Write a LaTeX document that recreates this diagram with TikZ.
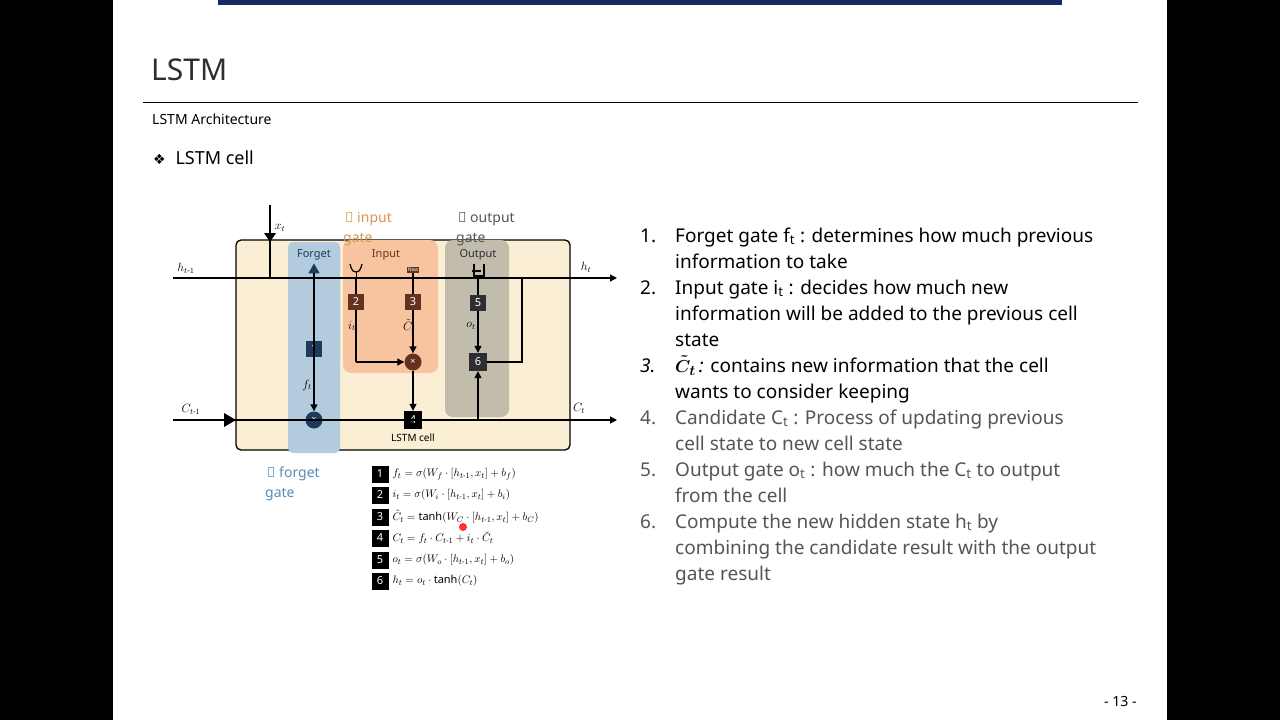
\documentclass[tikz,border=0pt]{standalone}
\usepackage{amsmath}
\usepackage{fontspec}
\setmainfont{Noto Sans}
\setsansfont{Noto Sans}
\usetikzlibrary{arrows.meta,shapes.geometric}
\definecolor{navy}{RGB}{24,42,94}
\definecolor{beige}{RGB}{250,239,212}
\definecolor{fblue}{RGB}{178,204,222}
\definecolor{iorange}{RGB}{248,196,160}
\definecolor{ogray}{RGB}{194,188,172}
\definecolor{dblue}{RGB}{30,58,90}
\definecolor{dbrown}{RGB}{100,50,30}
\definecolor{dgray}{RGB}{45,45,50}
\definecolor{txtgray}{RGB}{85,85,85}
\definecolor{lblorange}{RGB}{215,150,80}
\definecolor{lblblue}{RGB}{90,140,180}
\tikzset{
 gbox/.style={draw=none,fill=#1,minimum size=16pt,inner sep=0pt,text=white,font=\sffamily\fontsize{11}{11}\selectfont},
 mulc/.style={circle,fill=#1,minimum size=17pt,inner sep=0pt,text=white,font=\fontsize{9}{9}\selectfont},
 wire/.style={line width=1.3pt},
 arr/.style={wire,-{Triangle[length=7pt,width=7pt]}},
 mlab/.style={font=\fontsize{12}{12}\selectfont},
 eqn/.style={anchor=west,font=\fontsize{11}{11}\selectfont},
 num/.style={fill=black,text=white,minimum size=17pt,inner sep=0pt,font=\fontsize{11}{11}\selectfont},
 rt/.style={anchor=base west,inner sep=0pt,font=\fontsize{19}{19}\selectfont},
}
\begin{document}
\begin{tikzpicture}[x=1pt,y=-1pt]
\useasboundingbox (0,0) rectangle (1280,720);
\fill[black] (0,0) rectangle (113,720);
\fill[black] (1167,0) rectangle (1280,720);
\fill[white] (113,0) rectangle (1167,720);
\fill[navy] (218,0) rectangle (1062,5);
\node[anchor=base west,inner sep=0pt,font=\bfseries\fontsize{30}{30}\selectfont,text=dgray] (title) at (151,80) {LSTM};
\draw[line width=0.8pt] (143,102) -- (1138,102);
\node[anchor=base west,inner sep=0pt,font=\fontsize{14}{14}\selectfont] (sub) at (152,124) {LSTM Architecture};
\node[anchor=base west,inner sep=0pt,font=\bfseries\fontsize{18}{18}\selectfont] (cellh) at (153,164) {\fontspec{DejaVu Sans}\fontsize{14}{14}\selectfont ❖\ \ \fontspec{Noto Sans}\bfseries\fontsize{18}{18}\selectfont LSTM cell};
% diagram
\draw[fill=beige,line width=1.3pt,rounded corners=5pt] (236,240) rectangle (570,450);
\fill[fblue,rounded corners=5pt] (288,242) rectangle (340,453);
\fill[iorange,rounded corners=8pt] (343,240) rectangle (438,373);
\fill[ogray,rounded corners=8pt] (445,240) rectangle (509,417);
\node[font=\fontsize{11}{11}\selectfont,text=dblue] (fl) at (314,255) {Forget};
\node[font=\fontsize{11}{11}\selectfont,text=dbrown] (il) at (386,255) {Input};
\node[font=\fontsize{11}{11}\selectfont,text=dgray] (ol) at (478,255) {Output};
% coords
\coordinate (hin) at (173,278);
\coordinate (hout) at (617,278);
\coordinate (cin) at (173,420);
\coordinate (cout) at (617,420);
\coordinate (xin) at (270,205);
\coordinate (xj) at (270,278);
\node[regular polygon,regular polygon sides=3,fill=dblue,minimum size=13pt,inner sep=0pt] (tri) at (314,270) {};
\node[gbox=dblue] (b1) at (314,349) {1};
\node[mulc=dblue] (m1) at (314,420) {×};
\node[gbox=dbrown] (b2) at (356,302) {2};
\node[gbox=dbrown] (b3) at (413,302) {3};
\node[fill=dbrown,text=white,inner sep=1pt,font=\fontsize{5}{5}\selectfont] (new) at (413,270) {New};
\node[mulc=dbrown] (m2) at (413,362) {×};
\node[gbox=black,minimum size=18pt] (b4) at (413,420) {4};
\node[font=\bfseries\fontsize{10}{10}\selectfont] (lc) at (413,438) {LSTM cell};
\node[gbox=dgray] (b5) at (478,303) {5};
\node[gbox=dgray,minimum size=18pt] (b6) at (478,362) {6};
% wires
\draw[arr] (hin) -- (hout);
\draw[wire] (xin) -- (xj);
\fill[black] (264,233) -- (276,233) -- (270,242) -- cycle;
\draw[arr] (cin) -- (cout);
\fill[black] (224,413) -- (236,420) -- (224,427) -- cycle;
\draw[arr] (tri) -- (m1);
\draw[wire] (356,278) -- (b2);
\draw[wire] (b2) -- (356,362);
\draw[arr] (356,362) -- (m2);
\draw[wire] (new) -- (b3);
\draw[arr] (b3) -- (m2);
\draw[arr] (m2) -- (b4);
\draw[wire] (478,278) -- (b5);
\draw[arr] (b5) -- (b6);
\draw[arr] (478,420) -- (b6);
\draw[wire] (b6) -- (522,362) -- (522,278);
% symbols
\draw[wire,line width=1pt] (356,272) -- (356,278);
\draw[line width=1.2pt] (350,264) .. controls (352,272) and (354,272) .. (356,272) .. controls (358,272) and (360,272) .. (362,264);
\draw[line width=1.2pt] (474,264) -- (474,276) -- (484,276) -- (484,264);
\draw[line width=1.2pt] (472,271) -- (481,271);
% labels
\node[mlab] (lh1) at (186,268) {$h_{t\text{-}1}$};
\node[mlab] (lh2) at (586,267) {$h_t$};
\node[mlab] (lc1) at (191,409) {$C_{t\text{-}1}$};
\node[mlab] (lc2) at (579,408) {$C_t$};
\node[mlab] (lx) at (280,228) {$x_t$};
\node[mlab] (lf) at (307,385) {$f_t$};
\node[mlab] (li) at (352,326) {$i_t$};
\node[mlab] (lct) at (409,326) {$\tilde C_t$};
\node[mlab] (lo) at (471,326) {$o_t$};
\node[anchor=base west,inner sep=0pt,text=lblorange,font=\fontsize{14}{14}\selectfont] (ig1) at (345,222) {↓ input};
\node[anchor=base west,inner sep=0pt,text=lblorange,font=\fontsize{14}{14}\selectfont] (ig2) at (343,242) {gate};
\node[anchor=base west,inner sep=0pt,text=txtgray,font=\fontsize{14}{14}\selectfont] (og1) at (458,222) {↓ output};
\node[anchor=base west,inner sep=0pt,text=txtgray,font=\fontsize{14}{14}\selectfont] (og2) at (456,242) {gate};
\node[anchor=base west,inner sep=0pt,text=lblblue,font=\fontsize{14}{14}\selectfont] (fg1) at (267,477) {↑ forget};
\node[anchor=base west,inner sep=0pt,text=lblblue,font=\fontsize{14}{14}\selectfont] (fg2) at (265,497) {gate};
% equations
\node[num] (e1) at (380,474) {1}; \node[eqn] (q1) at (389,474) {$f_t=\sigma(W_f\cdot[h_{t\text{-}1},x_t]+b_f)$};
\node[num] (e2) at (380,495) {2}; \node[eqn] (q2) at (389,495) {$i_t=\sigma(W_i\cdot[h_{t\text{-}1},x_t]+b_i)$};
\node[num] (e3) at (380,517) {3}; \node[eqn] (q3) at (389,517) {$\tilde C_t=\tanh(W_C\cdot[h_{t\text{-}1},x_t]+b_C)$};
\node[num] (e4) at (380,538) {4}; \node[eqn] (q4) at (389,538) {$C_t=f_t\cdot C_{t\text{-}1}+i_t\cdot\tilde C_t$};
\node[num] (e5) at (380,560) {5}; \node[eqn] (q5) at (389,560) {$o_t=\sigma(W_o\cdot[h_{t\text{-}1},x_t]+b_o)$};
\node[num] (e6) at (380,581) {6}; \node[eqn] (q6) at (389,581) {$h_t=o_t\cdot\tanh(C_t)$};
\fill[red!80] (463,527) circle (4pt);
% right text
\node[rt] (n1) at (640,242) {\textbf{1.}};
\node[rt] (t1a) at (675,242) {\textbf{Forget gate f\textsubscript{t}} : determines how much previous};
\node[rt] (t1b) at (675,268) {information to take};
\node[rt] (n2) at (640,294) {\textbf{2.}};
\node[rt] (t2a) at (675,294) {\textbf{Input gate i\textsubscript{t}} : decides how much new};
\node[rt] (t2b) at (675,320) {information will be added to the previous cell};
\node[rt] (t2c) at (675,346) {state};
\node[rt] (n3) at (640,372) {\textit{3.}};
\node[rt] (t3a) at (675,372) {$\boldsymbol{\tilde C_t}$\,\textit{:} contains new information that the cell};
\node[rt] (t3b) at (675,398) {wants to consider keeping};
\node[rt,text=txtgray] (n4) at (640,424) {\textbf{4.}};
\node[rt,text=txtgray] (t4a) at (675,424) {\textbf{Candidate C\textsubscript{t}} : Process of updating previous};
\node[rt,text=txtgray] (t4b) at (675,450) {cell state to new cell state};
\node[rt,text=txtgray] (n5) at (640,476) {\textbf{5.}};
\node[rt,text=txtgray] (t5a) at (675,476) {\textbf{Output gate o\textsubscript{t}} : how much the C\textsubscript{t} to output};
\node[rt,text=txtgray] (t5b) at (675,502) {from the cell};
\node[rt,text=txtgray] (n6) at (640,528) {6.};
\node[rt,text=txtgray] (t6a) at (675,528) {Compute the new hidden state h\textsubscript{t} by};
\node[rt,text=txtgray] (t6b) at (675,554) {combining the candidate result with the output};
\node[rt,text=txtgray] (t6c) at (675,580) {gate result};
\node[anchor=base west,inner sep=0pt,font=\fontsize{14}{14}\selectfont] (pg) at (1104,706) {- 13 -};
\end{tikzpicture}
\end{document}
